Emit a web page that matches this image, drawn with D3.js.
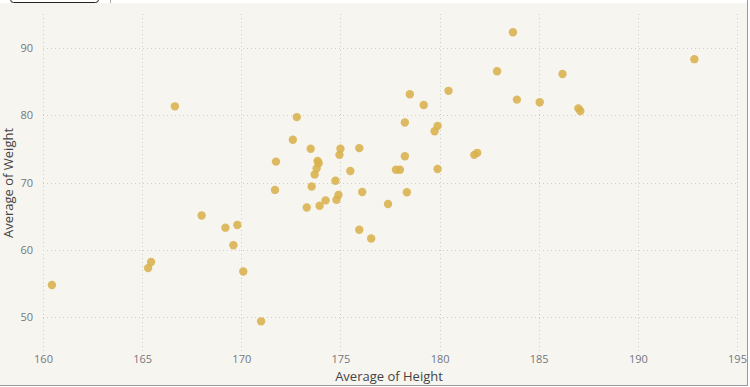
<!DOCTYPE html>
<html>
<head>
<meta charset="utf-8">
<script src="https://cdn.jsdelivr.net/npm/d3@7"></script>
<style>
  body { margin: 0; background: #fff; }
  svg { display: block; font-family: "Open Sans", "DejaVu Sans", sans-serif; }
</style>
</head>
<body>
<script>
// Average height / weight per group
const heights = [160.45, 165.3, 165.45, 166.65, 168.0, 169.2, 169.8, 169.6, 170.1, 171.0,
  171.7, 171.75, 182.9, 178.5, 180.45, 179.2, 172.8, 178.25, 179.9, 179.75,
  172.6, 173.5, 175.0, 174.95, 175.95, 173.85, 173.9, 178.25, 181.75, 181.9,
  173.8, 173.7, 175.5, 177.8, 178.0, 179.9, 183.7, 192.85, 186.2, 183.9,
  185.05, 187.0, 187.1, 173.55, 174.75, 176.1, 178.35, 174.9, 174.8, 174.25,
  173.95, 173.3, 177.4, 175.95, 176.55];
const weights = [54.8, 57.3, 58.2, 81.3, 65.1, 63.3, 63.7, 60.7, 56.8, 49.4,
  68.9, 73.1, 86.5, 83.1, 83.6, 81.5, 79.7, 78.9, 78.4, 77.6,
  76.35, 75.0, 75.0, 74.1, 75.1, 73.2, 72.85, 73.9, 74.1, 74.4,
  72.1, 71.2, 71.7, 71.9, 71.9, 72.0, 92.3, 88.3, 86.1, 82.3,
  81.9, 81.0, 80.6, 69.4, 70.25, 68.6, 68.55, 68.15, 67.45, 67.35,
  66.55, 66.3, 66.8, 63.0, 61.7];
const xTicks = [160, 165, 170, 175, 180, 185, 190, 195];
const yTicks = [50, 60, 70, 80, 90];

const width = 750, height = 387;

const svg = d3.select("body").append("svg")
    .attr("width", width)
    .attr("height", height);

// Panel background and frame
svg.append("rect")
    .attr("x", 0).attr("y", 3)
    .attr("width", 747).attr("height", 382)
    .attr("fill", "#f7f5f0");
svg.append("line")
    .attr("x1", 747.5).attr("x2", 747.5).attr("y1", 0).attr("y2", 386)
    .attr("stroke", "#9a9a9a");
svg.append("line")
    .attr("x1", 0).attr("x2", 748).attr("y1", 385.5).attr("y2", 385.5)
    .attr("stroke", "#9a9a9a");

// Bit of the button that sits above the chart
svg.append("rect")
    .attr("x", 10.5).attr("y", -10)
    .attr("width", 88).attr("height", 12.5)
    .attr("rx", 3)
    .attr("fill", "#fff")
    .attr("stroke", "#222");
svg.append("line")
    .attr("x1", 110.5).attr("x2", 110.5).attr("y1", 0).attr("y2", 3)
    .attr("stroke", "#aaa");

// Scales
const x = d3.scaleLinear().domain([160, 195]).range([43, 737]);
const y = d3.scaleLinear().domain([45, 95]).range([351, 14]);

// Grid
const grid = svg.append("g")
    .attr("stroke", "#cfcdc8")
    .attr("stroke-dasharray", "1,3");
grid.selectAll(".vx").data(xTicks).enter().append("line")
    .attr("x1", d => Math.round(x(d)) + 0.5)
    .attr("x2", d => Math.round(x(d)) + 0.5)
    .attr("y1", y(95)).attr("y2", y(45));
grid.selectAll(".hy").data(yTicks).enter().append("line")
    .attr("y1", d => Math.round(y(d)) + 0.5)
    .attr("y2", d => Math.round(y(d)) + 0.5)
    .attr("x1", x(160)).attr("x2", x(195));

// Axes (labels only)
const xAxis = svg.append("g")
    .attr("transform", `translate(0, ${y(45)})`)
    .call(d3.axisBottom(x).tickValues(xTicks).tickSize(0).tickPadding(4));
const yAxis = svg.append("g")
    .attr("transform", `translate(${x(160)}, 0)`)
    .call(d3.axisLeft(y).tickValues(yTicks).tickSize(0).tickPadding(10));
[xAxis, yAxis].forEach(a => {
    a.select(".domain").remove();
    a.selectAll("text")
        .attr("fill", "#737880")
        .style("font-size", "11px")
        .style("font-family", "\"Open Sans\", \"DejaVu Sans\", sans-serif");
});

// Points
svg.append("g").selectAll("circle")
    .data(heights.map((h, i) => [h, weights[i]]))
    .enter().append("circle")
    .attr("cx", d => x(d[0]))
    .attr("cy", d => y(d[1]))
    .attr("r", 4.2)
    .attr("fill", "#d9b24c")
    .attr("fill-opacity", 0.88);

// Axis titles
svg.append("text")
    .attr("x", 389).attr("y", 381)
    .attr("text-anchor", "middle")
    .attr("fill", "#444")
    .style("font-size", "13px")
    .text("Average of Height");
svg.append("text")
    .attr("transform", "translate(13, 183) rotate(-90)")
    .attr("text-anchor", "middle")
    .attr("fill", "#444")
    .style("font-size", "13px")
    .text("Average of Weight");
</script>
</body>
</html>
